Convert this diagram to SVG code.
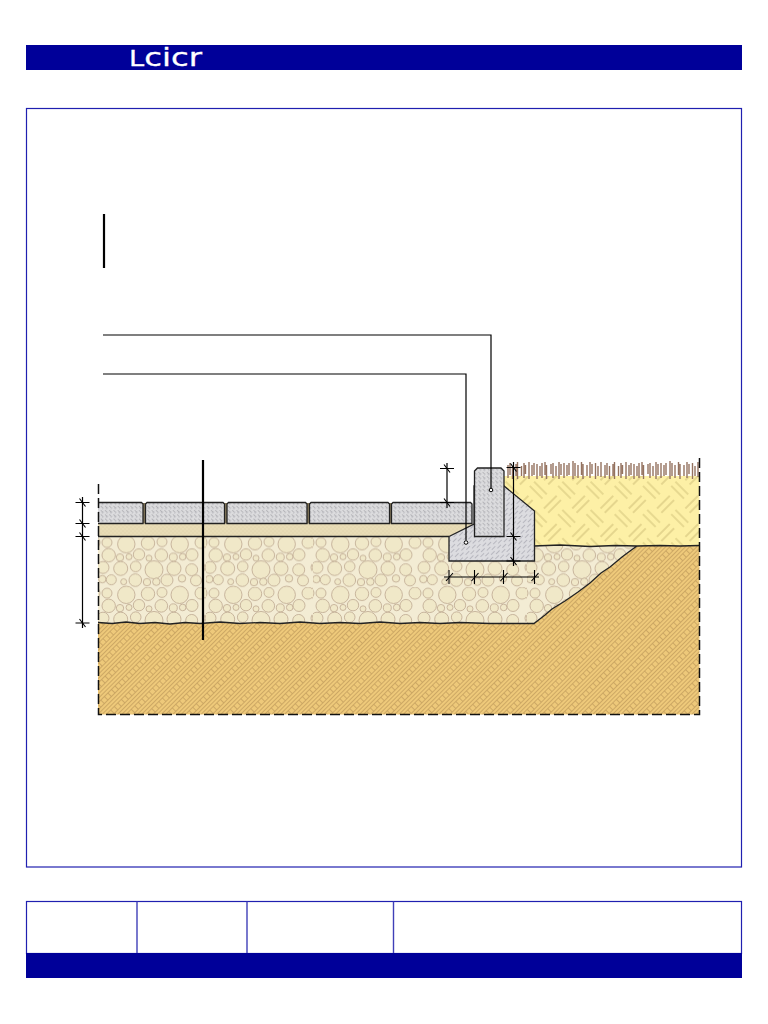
<svg xmlns="http://www.w3.org/2000/svg" width="768" height="1024" viewBox="0 0 768 1024">
<style>
.bar{fill:#000099}
.frame{fill:none;stroke:#2020b0;stroke-width:1.2}
.cell{stroke:#4040b8;stroke-width:1.4;fill:none}
.edge{fill:none;stroke:#222;stroke-width:1.300}
.dash{fill:none;stroke:#111;stroke-width:1.500;stroke-dasharray:10 4}
.leader{fill:none;stroke:#000;stroke-width:1.200}
.thick{fill:none;stroke:#000;stroke-width:2.200}
.dim{fill:none;stroke:#000;stroke-width:1.200}
.tick{fill:none;stroke:#000;stroke-width:1.100}
.dot{fill:#fff;stroke:#000;stroke-width:1}
.logo{font-family:"DejaVu Sans",sans-serif;fill:#fff;stroke:#fff;stroke-width:.3}
</style>
<defs>
<pattern id="earth" width="5" height="14" patternUnits="userSpaceOnUse" patternTransform="translate(98 623) rotate(-45)">
<rect width="5" height="14" fill="#eec97a"/>
<path d="M0 .5H5M0 5.500H5M0 8.500H5M0 11.500H5" stroke="#c4a05e" stroke-width=".8"/>
<path d="M2.500 .5V5.500" stroke="#c4a05e" stroke-width=".8"/>
</pattern>
<pattern id="topsoil" width="40" height="40" patternUnits="userSpaceOnUse" patternTransform="translate(510 476) rotate(45)">
<rect width="40" height="40" fill="#fdf0a6"/>
<path d="M1 7H19M1 13H19M21 27H39M21 33H39M27 1V19M33 1V19M7 21V39M13 21V39" stroke="#d2c27a" stroke-width="1.100"/>
</pattern>
<pattern id="gravel" width="107" height="50.670" patternUnits="userSpaceOnUse" patternTransform="translate(98 536.500)">
<rect width="107" height="50.670" fill="#f3ecd4"/>
<g fill="#f0e8c8" stroke="#c2ae96" stroke-width=".9">
<circle cx="28.300" cy="7.700" r="8.700"/><circle cx="28.300" cy="58.400" r="8.700"/>
<circle cx="50" cy="6.700" r="6.700"/><circle cx="64" cy="5.300" r="5"/>
<circle cx="81.700" cy="7.700" r="8.700"/><circle cx="81.700" cy="58.400" r="8.700"/>
<circle cx="103" cy="6" r="6"/><circle cx="-4" cy="6" r="6"/><circle cx="9" cy="6" r="5"/>
<circle cx="10.700" cy="18.700" r="6.700"/><circle cx="22" cy="21" r="3.700"/><circle cx="31" cy="20.300" r="3"/>
<circle cx="41" cy="18" r="5.700"/><circle cx="51" cy="21.700" r="3"/><circle cx="63.300" cy="18.700" r="6.300"/>
<circle cx="75.300" cy="20.700" r="4"/><circle cx="84.700" cy="20.300" r="3.300"/><circle cx="94" cy="18.300" r="6"/>
<circle cx="22.700" cy="32" r="7"/><circle cx="37.700" cy="30" r="5.300"/><circle cx="56" cy="33.300" r="9"/>
<circle cx="76" cy="32" r="7"/><circle cx="93.700" cy="33.300" r="6"/><circle cx="5" cy="31" r="6"/><circle cx="112" cy="31" r="6"/>
<circle cx="4.300" cy="42.700" r="3.700"/><circle cx="111.300" cy="42.700" r="3.700"/><circle cx="13.300" cy="43.300" r="5"/><circle cx="25.700" cy="45.300" r="3"/>
<circle cx="37.300" cy="43.700" r="6.300"/><circle cx="49" cy="45.700" r="3.700"/><circle cx="58.300" cy="45.300" r="3.700"/>
<circle cx="69" cy="43.700" r="6"/><circle cx="84" cy="42" r="3.700"/><circle cx="98" cy="44" r="5.500"/>
</g>
</pattern>
<pattern id="conc" width="6" height="6" patternUnits="userSpaceOnUse" patternTransform="rotate(45)">
<rect width="6" height="6" fill="#dcdcde"/>
<path d="M0 1.500H3M3 .5V3M3 4.500H6M0 3.500V6" stroke="#a6a6aa" stroke-width=".7"/>
</pattern>
<pattern id="conc2" width="9" height="6" patternUnits="userSpaceOnUse" patternTransform="rotate(-45)">
<rect width="9" height="6" fill="#dcdce0"/>
<path d="M0 1.500H5M4 4.500H9" stroke="#a8a8b0" stroke-width=".7"/>
</pattern>
<pattern id="sand" width="4" height="4" patternUnits="userSpaceOnUse">
<rect width="4" height="4" fill="#e8dcb6"/>
<path d="M.5 1h1M2.500 3h1" stroke="#d6c89e" stroke-width=".7"/>
</pattern>
<pattern id="grass" width="97" height="20" patternUnits="userSpaceOnUse" patternTransform="translate(507 460)">
<path d="M1 5V18M3 3V15M5.500 6V19M9 4V16M10.500 2V19M14.500 6V16M17 3V18M18.500 5V14M22 2V19M25 5V16M27 3V15M30 4V19M33 6V16M35 3V18M38 2V15M39.500 5V19M44 4V14M46 3V18M49 6V16M52 2V19M54 4V15M57 3V18M60 5V16M62 3V15M66 1V19M68 3V16M71 5V18M74.500 2V15M76 4V19M80 5V16M83 2V18M85 4V14M88.500 3V19M91 6V16M94 2V17" stroke="#94725f" stroke-width="1.400" fill="none"/>
</pattern>
<path id="tv" class="tick" d="M-7 0H7M-3 -4L3 4"/>
<path id="th" class="tick" d="M0 -7V7M-3 4L4 -4"/>
</defs>
<rect width="768" height="1024" fill="#fff"/>

<g id="header">
<rect class="bar" x="26" y="45" width="716" height="25"/>
<text class="logo" x="129" y="66" font-size="25" textLength="73" lengthAdjust="spacingAndGlyphs"><tspan font-size="21">L</tspan>cicr</text>
</g>
<rect id="sheet" class="frame" x="26.500" y="108.500" width="715" height="758.500"/>

<g id="ground">
<path d="M98 622.500L112 623.500L126 622L140 623.500L155 622.500L170 624L185 622.500L200 623.500L220 622L240 623.500L260 622.500L280 623.500L300 622L320 623.500L340 622.500L360 623.500L380 622L400 623.500L420 622.500L440 623.500L460 622.500L490 623.500L534 623.500L545 615L552 609L565 601L578 592L590 583L601 573L610 567L622 557L630 551L637 546L660 545.500L680 546L699.500 545.500V714.500H98Z" fill="url(#earth)"/>
<path d="M504 476H699.500V546H534V511L504 486Z" fill="url(#topsoil)"/>
<path d="M98 536.500H449V561H534V546H637L630 551L622 557L610 567L601 573L590 583L578 592L565 601L552 609L545 615L534 623.500L490 623.500L460 622.500L440 623.500L420 622.500L400 623.500L380 622L360 623.500L340 622.500L320 623.500L300 622L280 623.500L260 622.500L240 623.500L220 622L200 623.500L185 622.500L170 624L155 622.500L140 623.500L126 622L112 623.500L98 622.500Z" fill="url(#gravel)"/>
<path d="M98 523.500H474L449 536.500H98Z" fill="url(#sand)"/>
<rect x="507" y="460" width="192" height="20" fill="url(#grass)"/>
<path class="edge" d="M98 622.500L112 623.500L126 622L140 623.500L155 622.500L170 624L185 622.500L200 623.500L220 622L240 623.500L260 622.500L280 623.500L300 622L320 623.500L340 622.500L360 623.500L380 622L400 623.500L420 622.500L440 623.500L460 622.500L490 623.500L534 623.500L545 615L552 609L565 601L578 592L590 583L601 573L610 567L622 557L630 551L637 546L660 545.500L680 546L699.500 545.500M534 546L560 545L590 546.500L615 545.500L637 546"/>
<path class="edge" d="M98 536.500H449"/>
</g>

<g id="pavers">
<path d="M142.500 503V523.500H146V503Z" fill="#8a7d5e"/>
<path d="M224.500 503V523.500H228V503Z" fill="#8a7d5e"/>
<path d="M307 503V523.500H310V503Z" fill="#8a7d5e"/>
<path d="M389 503V523.500H392V503Z" fill="#8a7d5e"/>
<path class="edge" style="fill:url(#conc)" d="M98 502.500H141.500L143 504V523.500H98"/>
<path class="edge" style="fill:url(#conc)" d="M145.500 523.500V504L147 502.500H223L224.500 504V523.500Z"/>
<path class="edge" style="fill:url(#conc)" d="M227 523.500V504L228.500 502.500H305.500L307 504V523.500Z"/>
<path class="edge" style="fill:url(#conc)" d="M309.500 523.500V504L311 502.500H388L389.500 504V523.500Z"/>
<path class="edge" style="fill:url(#conc)" d="M391.500 523.500V504L393 502.500H470.500L472 504V523.500Z"/>
</g>

<g id="kerb">
<path class="edge" style="fill:url(#conc2)" d="M449 536.500L474 524V486H504L534.500 511V561H449Z"/>
<path class="edge" style="fill:url(#conc)" d="M474.500 471L477.500 468H501L504 471V536.500H474.500Z"/>
</g>

<g id="boundary">
<path class="dash" d="M98.500 484V714.500H699.500V456"/>
</g>

<g id="connectors">
<path class="thick" d="M104 214V268"/>
<path class="thick" d="M203 460V640"/>
<path class="leader" d="M103 335H491V488"/>
<path class="leader" d="M103 374H466V540"/>
<circle class="dot" cx="491" cy="490" r="1.800"/>
<circle class="dot" cx="466" cy="542.500" r="1.800"/>
<path class="dim" d="M82.500 497V628"/>
<use href="#tv" x="82.500" y="502.500"/><use href="#tv" x="82.500" y="523.500"/><use href="#tv" x="82.500" y="536.500"/><use href="#tv" x="82.500" y="623"/>
<path class="dim" d="M447 463V508"/>
<use href="#tv" x="447" y="468.500"/><use href="#tv" x="447" y="502.500"/>
<path class="dim" d="M513.500 462V566"/>
<use href="#tv" x="513.500" y="467.500"/><use href="#tv" x="513.500" y="536.500"/><use href="#tv" x="513.500" y="561"/>
<path class="dim" d="M444 577H539"/>
<use href="#th" x="449" y="577"/><use href="#th" x="474.500" y="577"/><use href="#th" x="503.500" y="577"/><use href="#th" x="534.500" y="577"/>
</g>

<g id="footer">
<rect class="frame" x="26.500" y="901.500" width="715" height="52"/>
<path class="cell" d="M137 901.500V953M247 901.500V953M393.500 901.500V953"/>
<rect class="bar" x="26" y="953" width="716" height="25"/>
</g>
</svg>
